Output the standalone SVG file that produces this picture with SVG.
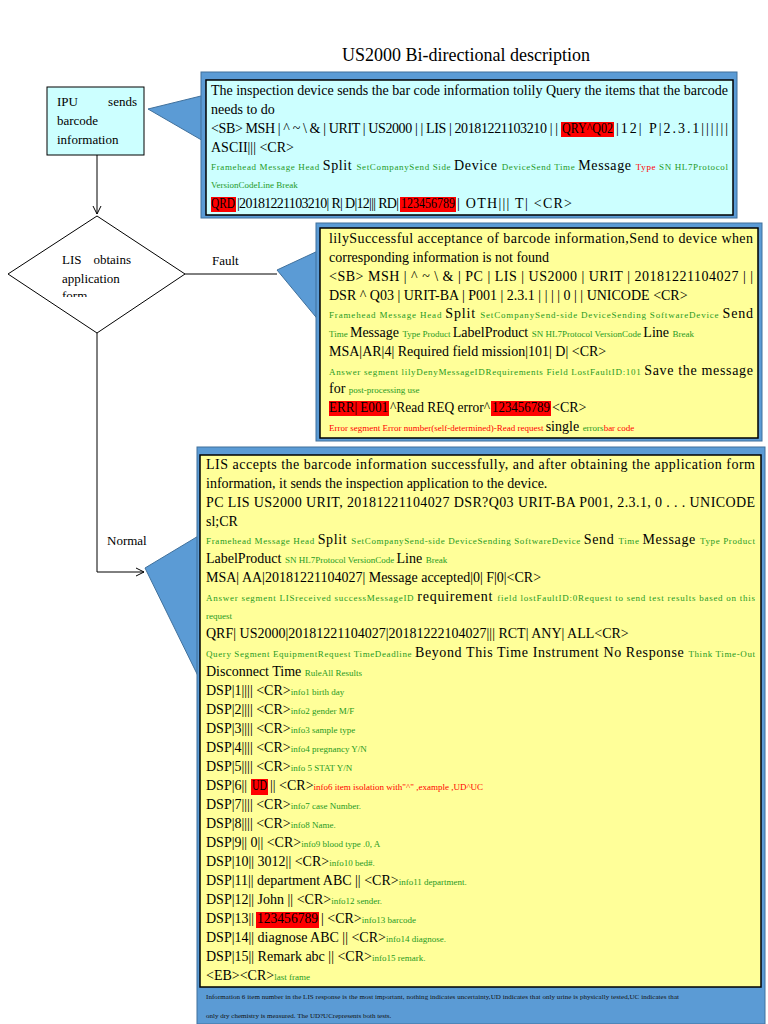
<svg xmlns="http://www.w3.org/2000/svg" width="768" height="1024" viewBox="0 0 768 1024">
<style>
text{font-family:"Liberation Serif","Times New Roman",serif;fill:#000;font-size:14px}
.g{fill:#1f9a1f;font-size:9px}
.r{fill:#ff0000;font-size:9px}
.s{font-size:7px;fill:#111}
.blue{fill:#5b9bd5;stroke:#41719c;stroke-width:1}
.inner{stroke:#000;stroke-width:1.5}
.hl{fill:#ff0000}
.ln{stroke:#000;stroke-width:1;fill:none}
</style>
<defs><marker id="ar" markerWidth="10" markerHeight="10" refX="9" refY="5" orient="auto" markerUnits="userSpaceOnUse"><path d="M1,1 L9,5 L1,9" fill="none" stroke="#000" stroke-width="1"/></marker>
<clipPath id="cp"><rect x="50" y="285" width="60" height="12"/></clipPath></defs>
<text x="466" y="61" text-anchor="middle" style="font-size:18px">US2000 Bi-directional description</text>

<g id="connectors">
<line class="ln" x1="97" y1="155" x2="97" y2="214" marker-end="url(#ar)"/>
<line class="ln" x1="185" y1="274" x2="277" y2="274"/>
<text x="212" y="265" style="font-size:13px">Fault</text>
<polyline class="ln" points="97,333 97,572 144,572" marker-end="url(#ar)"/>
<text x="107" y="545" style="font-size:13px">Normal</text>
</g>

<g id="ipu">
<rect x="47" y="87" width="97" height="68" fill="#ccffff" stroke="#000"/>
<text x="57" y="106" style="font-size:13px">IPU</text>
<text x="137" y="106" text-anchor="end" style="font-size:13px">sends</text>
<text x="57" y="125" style="font-size:13px">barcode</text>
<text x="57" y="144" style="font-size:13px">information</text>
</g>

<g id="lis">
<polygon points="97,216 185,274 97,333 8,274" fill="#fff" stroke="#000"/>
<text x="62" y="264" style="font-size:13px">LIS</text>
<text x="131" y="264" text-anchor="end" style="font-size:13px">obtains</text>
<text x="62" y="283" style="font-size:13px">application</text>
<text x="62" y="300" clip-path="url(#cp)" style="font-size:13px">form</text>
</g>

<g id="callout1">
<polygon class="blue" points="148,109 205,95 205,142"/>
<rect class="blue" x="201" y="72" width="536" height="146"/>
<rect class="inner" x="206" y="80" width="527" height="135" fill="#ccffff"/>
<rect class="hl" x="561" y="122" width="53" height="15"/>
<rect class="hl" x="211" y="197" width="25" height="15"/>
<rect class="hl" x="400" y="197" width="56" height="15"/>
<text x="211" y="95" textLength="517" lengthAdjust="spacing">The inspection device sends the bar code information tolily Query the items that the barcode</text>
<text x="211" y="114">needs to do</text>
<text x="211" y="133" textLength="347" lengthAdjust="spacing">&lt;SB&gt; MSH | ^ ~ \ &amp; | URIT | US2000 | | LIS | 20181221103210 | |</text>
<text x="562" y="133" textLength="51" lengthAdjust="spacingAndGlyphs">QRY^Q02</text>
<text x="616" y="133" textLength="112" lengthAdjust="spacing">|12| P|2.3.1||||||</text>
<text x="211" y="152">ASCII||| &lt;CR&gt;</text>
<text x="211" y="170" textLength="517" lengthAdjust="spacing"><tspan class="g">Framehead Message Head </tspan><tspan>Split </tspan><tspan class="g">SetCompanySend Side </tspan><tspan>Device </tspan><tspan class="g">DeviceSend Time </tspan><tspan>Message </tspan><tspan class="r">Type </tspan><tspan class="g">SN HL7Protocol</tspan></text>
<text x="211" y="188" class="g">VersionCodeLine Break</text>
<text x="211" y="208" textLength="24" lengthAdjust="spacingAndGlyphs">QRD</text>
<text x="237" y="208" textLength="162" lengthAdjust="spacing">|20181221103210| R| D|12||| RD|</text>
<text x="401" y="208" textLength="54" lengthAdjust="spacingAndGlyphs">123456789</text>
<text x="457" y="208" textLength="115" lengthAdjust="spacing">| OTH||| T| &lt;CR&gt;</text>
</g>

<g id="callout2">
<polygon class="blue" points="277,270 320,250 320,322"/>
<rect class="blue" x="316" y="223" width="446" height="218"/>
<rect class="inner" x="320" y="228" width="438" height="210" fill="#ffff99"/>
<rect class="hl" x="329" y="401" width="60" height="15"/>
<rect class="hl" x="491" y="401" width="60" height="15"/>
<text x="329" y="243" textLength="424" lengthAdjust="spacing">lilySuccessful acceptance of barcode information,Send to device when</text>
<text x="329" y="262">corresponding information is not found</text>
<text x="329" y="281" textLength="424" lengthAdjust="spacing">&lt;SB&gt; MSH | ^ ~ \ &amp; | PC | LIS | US2000 | URIT | 20181221104027 | |</text>
<text x="329" y="300">DSR ^ Q03 | URIT-BA | P001 | 2.3.1 | | | | 0 | | UNICODE &lt;CR&gt;</text>
<text x="329" y="318" textLength="424" lengthAdjust="spacing"><tspan class="g">Framehead Message Head </tspan><tspan>Split </tspan><tspan class="g">SetCompanySend-side DeviceSending SoftwareDevice </tspan><tspan>Send</tspan></text>
<text x="329" y="337"><tspan class="g">Time </tspan><tspan>Message </tspan><tspan class="g">Type Product </tspan><tspan>LabelProduct </tspan><tspan class="g">SN HL7Protocol VersionCode </tspan><tspan>Line </tspan><tspan class="g">Break</tspan></text>
<text x="329" y="356">MSA|AR|4| Required field mission|101| D| &lt;CR&gt;</text>
<text x="329" y="375" textLength="424" lengthAdjust="spacing"><tspan class="g">Answer segment lilyDenyMessageIDRequirements Field LostFaultID:101 </tspan><tspan>Save the message</tspan></text>
<text x="329" y="393"><tspan>for </tspan><tspan class="g">post-processing use</tspan></text>
<text x="329" y="412" textLength="59" lengthAdjust="spacingAndGlyphs">ERR| E001</text>
<text x="390" y="412" textLength="100" lengthAdjust="spacingAndGlyphs">^Read REQ error^</text>
<text x="492" y="412" textLength="58" lengthAdjust="spacingAndGlyphs">123456789</text>
<text x="552" y="412">&lt;CR&gt;</text>
<text x="329" y="431"><tspan class="r">Error segment Error number(self-determined)-Read request </tspan><tspan>single </tspan><tspan class="g">errors</tspan><tspan class="r">bar code</tspan></text>
</g>

<g id="callout3">
<polygon class="blue" points="145,568 200,535 200,680"/>
<rect class="blue" x="197" y="447" width="568" height="577"/>
<rect class="inner" x="200" y="455" width="561" height="532" fill="#ffff99"/>
<rect class="hl" x="251" y="779" width="17" height="16"/>
<rect class="hl" x="256" y="912" width="63" height="16"/>
<text x="206" y="469" textLength="549" lengthAdjust="spacing">LIS accepts the barcode information successfully, and after obtaining the application form</text>
<text x="206" y="488">information, it sends the inspection application to the device.</text>
<text x="206" y="507" textLength="549" lengthAdjust="spacing"> PC LIS US2000 URIT, 20181221104027 DSR?Q03 URIT-BA P001, 2.3.1, 0 . . . UNICODE</text>
<text x="206" y="526">sl;CR</text>
<text x="206" y="544" textLength="549" lengthAdjust="spacing"><tspan class="g">Framehead Message Head </tspan><tspan>Split </tspan><tspan class="g">SetCompanySend-side DeviceSending SoftwareDevice </tspan><tspan>Send </tspan><tspan class="g">Time </tspan><tspan>Message </tspan><tspan class="g">Type Product</tspan></text>
<text x="206" y="563"><tspan>LabelProduct </tspan><tspan class="g">SN HL7Protocol VersionCode </tspan><tspan>Line </tspan><tspan class="g">Break</tspan></text>
<text x="206" y="582">MSA| AA|20181221104027| Message accepted|0| F|0|&lt;CR&gt;</text>
<text x="206" y="601" textLength="549" lengthAdjust="spacing"><tspan class="g">Answer segment LISreceived successMessageID </tspan><tspan>requirement </tspan><tspan class="g">field lostFaultID:0Request to send test results based on this</tspan></text>
<text x="206" y="619" class="g">request</text>
<text x="206" y="638">QRF| US2000|20181221104027|20181222104027||| RCT| ANY| ALL&lt;CR&gt;</text>
<text x="206" y="657" textLength="549" lengthAdjust="spacing"><tspan class="g">Query Segment EquipmentRequest TimeDeadline </tspan><tspan>Beyond This Time Instrument No Response </tspan><tspan class="g">Think Time-Out</tspan></text>
<text x="206" y="676"><tspan>Disconnect Time </tspan><tspan class="g">RuleAll Results</tspan></text>
<text x="206" y="695">DSP|1|||| &lt;CR&gt;<tspan class="g">info1 birth day</tspan></text>
<text x="206" y="714">DSP|2|||| &lt;CR&gt;<tspan class="g">info2 gender M/F</tspan></text>
<text x="206" y="733">DSP|3|||| &lt;CR&gt;<tspan class="g">info3 sample type</tspan></text>
<text x="206" y="752">DSP|4|||| &lt;CR&gt;<tspan class="g">info4 pregnancy Y/N</tspan></text>
<text x="206" y="771">DSP|5|||| &lt;CR&gt;<tspan class="g">info 5 STAT Y/N</tspan></text>
<text x="206" y="790">DSP|6||</text>
<text x="252" y="790" textLength="15" lengthAdjust="spacingAndGlyphs">UD</text>
<text x="270" y="790">|| &lt;CR&gt;<tspan class="r">info6 item isolation with"^" ,example ,UD^UC</tspan></text>
<text x="206" y="809">DSP|7|||| &lt;CR&gt;<tspan class="g">info7 case Number.</tspan></text>
<text x="206" y="828">DSP|8|||| &lt;CR&gt;<tspan class="g">info8 Name.</tspan></text>
<text x="206" y="847">DSP|9|| 0|| &lt;CR&gt;<tspan class="g">info9 blood type .0,   A</tspan></text>
<text x="206" y="866">DSP|10|| 3012|| &lt;CR&gt;<tspan class="g">info10 bed#.</tspan></text>
<text x="206" y="885">DSP|11|| department ABC || &lt;CR&gt;<tspan class="g">info11 department.</tspan></text>
<text x="206" y="904">DSP|12|| John || &lt;CR&gt;<tspan class="g">info12 sender.</tspan></text>
<text x="206" y="923">DSP|13||</text>
<text x="257" y="923" textLength="61" lengthAdjust="spacingAndGlyphs">123456789</text>
<text x="321" y="923">| &lt;CR&gt;<tspan class="g">info13    barcode</tspan></text>
<text x="206" y="942">DSP|14|| diagnose ABC || &lt;CR&gt;<tspan class="g">info14 diagnose.</tspan></text>
<text x="206" y="961">DSP|15|| Remark abc || &lt;CR&gt;<tspan class="g">info15 remark.</tspan></text>
<text x="206" y="980">&lt;EB&gt;&lt;CR&gt;<tspan class="g">last frame</tspan></text>
<text x="206" y="999" class="s" textLength="473" lengthAdjust="spacing">Information 6 item number in the LIS response is the most important, nothing indicates uncertainty,UD indicates that only urine is physically tested,UC indicates that</text>
<text x="206" y="1018" class="s">only dry chemistry is measured. The UD?UCrepresents both tests.</text>
</g>
</svg>
